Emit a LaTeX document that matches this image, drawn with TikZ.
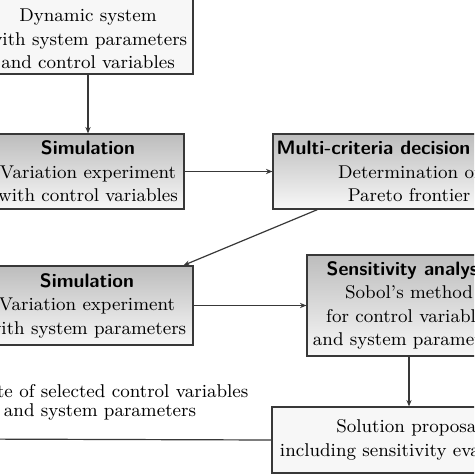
\documentclass[tikz,border=0pt]{standalone}
\usetikzlibrary{arrows.meta}
\newcommand\boxtitle[1]{{\sffamily\bfseries\fontsize{9.7}{11.75}\selectfont #1}}
\begin{document}
\begin{tikzpicture}[x=0.5pt,y=-0.5pt,
  box/.style={draw=black!78, line width=0.6pt, align=center, inner sep=0pt,
    font=\fontsize{9.25}{11.75}\selectfont},
  plainbox/.style={box, fill=black!3},
  shadebox/.style={box, top color=black!26, bottom color=black!3},
  conn/.style={draw=black!78, line width=0.6pt, -{Stealth[length=3.2pt,width=2.6pt]}},
  plainconn/.style={draw=black!78, line width=0.6pt},
  lbl/.style={inner sep=0pt, align=center, font=\fontsize{9.25}{9.5}\selectfont}]
\useasboundingbox (0,0) rectangle (474,474);
\clip (0,0) rectangle (474,474);

\node[plainbox, minimum width=105pt, minimum height=38pt] (dyn) at (88,36)
  {\rule{0pt}{9.4pt}Dynamic system\\with system parameters\\and control variables};
\node[shadebox, minimum width=96pt, minimum height=37.5pt] (sim1) at (88,171.5)
  {\boxtitle{Simulation}\\Variation experiment\\with control variables};
\node[shadebox, minimum width=136pt, minimum height=37.5pt] (mcd) at (409,171.5)
  {\boxtitle{Multi-criteria decision making}\\Determination of\\Pareto frontier};
\node[shadebox, minimum width=106pt, minimum height=39.5pt] (sim2) at (87,305.5)
  {\boxtitle{Simulation}\\Variation experiment\\with system parameters};
\node[shadebox, minimum width=102pt, minimum height=50.5pt] (sens) at (409,305.5)
  {\boxtitle{Sensitivity analysis}\\Sobol's method\\for control variables\\and system parameters};
\node[plainbox, minimum width=137pt, minimum height=33pt] (sol) at (409,440)
  {Solution proposal\\including sensitivity evaluation};

\coordinate (fb) at (-40,439);
\node[lbl] (fblabel) at (100,402)
  {Update of selected control variables\\and system parameters};

\draw[conn] (dyn.south) -- (sim1.north);
\draw[conn] (sim1.east) -- (mcd.west);
\draw[conn] (mcd) -- (sim2);
\draw[conn] (sim2.east) -- (sens.west);
\draw[conn] (sens.south) -- (sol.north);
\draw[plainconn] (sol.west) -- (fb);
\end{tikzpicture}
\end{document}
